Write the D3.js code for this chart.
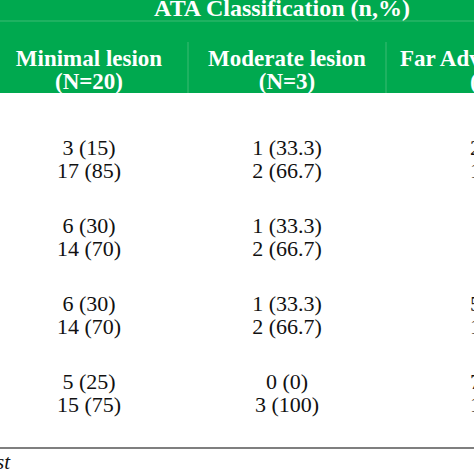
<!DOCTYPE html>
<html><head><meta charset="utf-8">
<script src="https://cdn.jsdelivr.net/npm/d3@7"></script>
<style>body{margin:0;background:#fff}</style>
</head><body>
<script>
var title = "ATA Classification (n,%)";
var groups = ["Minimal lesion", "Moderate lesion", "Far Advanced lesion"];
var groupN = ["(N=20)", "(N=3)", "(N=17)"];
var col1 = [["3 (15)", "17 (85)"], ["6 (30)", "14 (70)"], ["6 (30)", "14 (70)"], ["5 (25)", "15 (75)"]];
var col2 = [["1 (33.3)", "2 (66.7)"], ["1 (33.3)", "2 (66.7)"], ["1 (33.3)", "2 (66.7)"], ["0 (0)", "3 (100)"]];
var col3 = [["2 (12)", "15 (88)"], ["", ""], ["5 (29)", "12 (71)"], ["7 (41)", "10 (59)"]];

var W = 474, H = 474;
var svg = d3.select("body").append("svg").attr("width", W).attr("height", H)
	.style("font-family", "'Liberation Serif', serif");

var x = d3.scaleBand().domain(d3.range(3)).range([-10, 584]);
var yRow = d3.scaleLinear().domain([0, 3]).range([147, 381]);

svg.append("rect").attr("width", W).attr("height", 93).attr("fill", "#00a94f");
svg.append("line").attr("x1", 0).attr("x2", W).attr("y1", 21).attr("y2", 21)
	.attr("stroke", "#3dbb74").attr("stroke-width", 1);
[1, 2].forEach(function (i) {
	svg.append("line").attr("x1", x(i)).attr("x2", x(i)).attr("y1", 42).attr("y2", 93)
		.attr("stroke", "#3dbb74");
});
svg.append("text").attr("x", 282).attr("y", 16).attr("text-anchor", "middle")
	.attr("fill", "#fff").attr("font-weight", "bold").attr("font-size", 24).text(title);

groups.forEach(function (g, i) {
	var cx = x(i) + x.bandwidth() / 2;
	var anchor = "middle";
	if (i === 2) { cx = 400; anchor = "start"; } // header runs off the right edge
	svg.append("text").attr("x", cx).attr("y", 66).attr("text-anchor", anchor)
		.attr("fill", "#fff").attr("font-weight", "bold").attr("font-size", 23).text(g);
	svg.append("text").attr("x", i === 2 ? 470 : cx).attr("y", 89).attr("text-anchor", anchor)
		.attr("fill", "#fff").attr("font-weight", "bold").attr("font-size", 23).text(groupN[i]);
});

[col1, col2, col3].forEach(function (col, i) {
	var cx = x(i) + x.bandwidth() / 2;
	if (i === 2) cx = 470; // column runs off the right edge
	col.forEach(function (pair, r) {
		pair.forEach(function (t, k) {
			svg.append("text").attr("x", cx).attr("y", yRow(r) + 8 + k * 23)
				.attr("text-anchor", i === 2 ? "start" : "middle")
				.attr("fill", "#111").attr("font-size", 22).text(t);
		});
	});
});

svg.append("line").attr("x1", 0).attr("x2", W).attr("y1", 448).attr("y2", 448)
	.attr("stroke", "#555").attr("stroke-width", 1.5);
svg.append("text").attr("x", -4).attr("y", 469).attr("font-style", "italic")
	.attr("font-size", 21).attr("fill", "#111").text("st");
</script>
</body></html>
